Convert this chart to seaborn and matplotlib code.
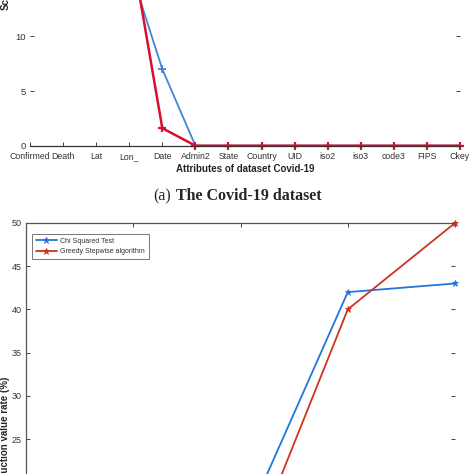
import matplotlib
matplotlib.use("Agg")
import matplotlib.pyplot as plt
import seaborn as sns
import pandas as pd
import numpy as np

# (a) top panel: attribute scores
attributes = ['Confirmed', 'Death', 'Lat', 'Lon_', 'Date', 'Admin2', 'State', 'Country',
              'UID', 'iso2', 'iso3', 'code3', 'FIPS', 'Ckey']
chi_scores = [100, 60, 30, 16.4, 7.0, 0, 0, 0, 0, 0, 0, 0, 0, 0]
greedy_scores = [100, 70, 40, 19.2, 1.6, 0, 0, 0, 0, 0, 0, 0, 0, 0]

# (b) bottom panel: reduction rate
steps = [0, 1, 2, 3, 4]
chi_rate = [5, 10, 14, 42, 43]
greedy_rate = [4, 7, 9, 40, 50]
methods = ['Chi Squared Test', 'Greedy Stepwise algorithm']

sns.set_style('white')
plt.rcParams['font.family'] = ['Liberation Sans', 'DejaVu Sans']

W = 474.0
fig = plt.figure(figsize=(4.74, 4.74), dpi=100)

# ---------- top panel ----------
blue_a, red_a = '#3f86d6', '#d6102e'
ax1 = fig.add_axes([30 / W, 1 - 145.7 / W, 430 / W, 145.7 / W])
df_a = pd.DataFrame({'pos': np.arange(len(attributes)), 'chi': chi_scores, 'greedy': greedy_scores})
sns.lineplot(data=df_a, x='pos', y='chi', ax=ax1, color=blue_a, lw=1.3,
             marker='+', markersize=6, mew=1.3, mec=blue_a, clip_on=False)
sns.lineplot(data=df_a, x='pos', y='greedy', ax=ax1, color=red_a, lw=1.8,
             marker='+', markersize=6, mew=1.6, mec=red_a, clip_on=False)
ax1.set_xlim(0, len(attributes) - 1)
ax1.set_ylim(0, 13.32)
ax1.set_xticks(df_a['pos'])
ax1.set_xticklabels(attributes, fontsize=6.3, color='#333333')
ax1.set_yticks([0, 5, 10])
ax1.set_yticklabels(['0', '5', '10'], fontsize=6.8, color='#333333')
ax1.tick_params(axis='both', direction='in', length=3, width=0.7, color='#444444')
ax1.tick_params(axis='y', right=True, left=True, pad=3)
ax1.tick_params(axis='x', bottom=True, pad=4.5)
for s in ['top', 'left', 'right']:
    ax1.spines[s].set_visible(False)
ax1.spines['bottom'].set_color('#333333')
ax1.spines['bottom'].set_linewidth(0.9)
ax1.set_xlabel('Attributes of dataset Covid-19', fontsize=7, fontweight='bold', labelpad=2)
ax1.set_ylabel('')
fig.text(6 / W, 1 - 10 / W, 'Score', rotation=90, ha='center', va='bottom',
         fontsize=7, fontweight='bold')

# caption
fig.text(171 / W, 1 - 196 / W, '(a)', ha='right', va='center', fontsize=11.5,
         family='Liberation Serif')
fig.text(176 / W, 1 - 196 / W, 'The Covid-19 dataset', ha='left', va='center', fontsize=11.5,
         family='Liberation Serif', fontweight='bold')

# ---------- bottom panel ----------
blue_b, red_b = '#2474dc', '#cc3322'
ax2 = fig.add_axes([26 / W, 0, 429 / W, 1 - 223 / W])
df_b = pd.DataFrame({'step': steps, 'chi': chi_rate, 'greedy': greedy_rate})
sns.lineplot(data=df_b, x='step', y='chi', ax=ax2, color=blue_b, label=methods[0],
             marker='*', markersize=5, mew=0.6, mec=blue_b, lw=1.3, clip_on=False)
sns.lineplot(data=df_b, x='step', y='greedy', ax=ax2, color=red_b, label=methods[1],
             marker='*', markersize=5, mew=0.6, mec=red_b, lw=1.3, clip_on=False)
ax2.set_xlim(0, 4)
ax2.set_ylim(20.95, 50)
ax2.set_xticks(steps)
ax2.set_xticklabels([])
ax2.set_yticks([25, 30, 35, 40, 45, 50])
ax2.set_yticklabels(['25', '30', '35', '40', '45', '50'], fontsize=6.5, color='#333333')
ax2.tick_params(axis='both', direction='in', length=3, width=0.7, color='#444444')
ax2.tick_params(axis='y', left=True, right=True, pad=3)
ax2.tick_params(axis='x', top=True, bottom=False)
ax2.spines['right'].set_visible(False)
ax2.spines['bottom'].set_visible(False)
for s in ['top', 'left']:
    ax2.spines[s].set_color('#555555')
    ax2.spines[s].set_linewidth(0.9)
ax2.set_xlabel('')
ax2.set_ylabel('')
fig.text(5 / W, 1 - 377 / W, 'Reduction value rate (%)', rotation=90, ha='center', va='top',
         fontsize=7, fontweight='bold')

leg = ax2.legend(loc='upper left', bbox_to_anchor=(6 / 429, 1 - 11 / 251), fontsize=5,
                 frameon=True, fancybox=False, handlelength=3.0, borderpad=0.55,
                 labelspacing=0.45, handletextpad=0.5, borderaxespad=0)
leg.get_frame().set_edgecolor('#555555')
leg.get_frame().set_linewidth(0.7)
for t in leg.get_texts():
    t.set_color('#333333')

fig.savefig('out.png', dpi=100)
